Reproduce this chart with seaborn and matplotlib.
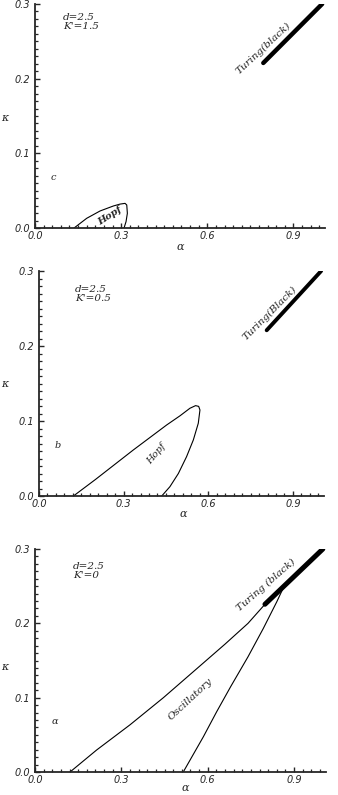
import pandas as pd
import numpy as np

import seaborn as sns
import matplotlib.pyplot as plt
from matplotlib.ticker import MultipleLocator

# panel c : K'=1.5
hopf_c_alpha = [0.136, 0.18, 0.2265, 0.273, 0.296, 0.3136, 0.3195, 0.3216, 0.317, 0.310]
hopf_c_kappa = [0.0, 0.013, 0.0228, 0.0295, 0.032, 0.033, 0.0308, 0.0197, 0.0085, 0.0]
turing_c_alpha = [0.795, 1.0]
turing_c_kappa = [0.221, 0.3]

# panel b : K'=0.5
hopf_b_alpha = [0.122, 0.2, 0.334, 0.4525, 0.50, 0.535, 0.555, 0.566, 0.5705,
                0.5646, 0.547, 0.523, 0.494, 0.464, 0.435]
hopf_b_kappa = [0.0, 0.022, 0.0613, 0.0947, 0.107, 0.117, 0.1205, 0.1195, 0.1147,
                0.097, 0.0747, 0.0524, 0.030, 0.0124, 0.0]
turing_b_alpha = [0.807, 1.0]
turing_b_kappa = [0.221, 0.3]

# panel a : K'=0
osc_left_alpha = [0.1216, 0.214, 0.330, 0.446, 0.562, 0.660, 0.740, 0.799]
osc_left_kappa = [0.0, 0.0296, 0.0635, 0.100, 0.139, 0.172, 0.200, 0.2257]
osc_right_alpha = [0.515, 0.585, 0.631, 0.680, 0.740, 0.793, 0.840, 0.863]
osc_right_kappa = [0.0, 0.0475, 0.081, 0.115, 0.155, 0.193, 0.229, 0.248]
turing_a_alpha = [0.799, 1.0]
turing_a_kappa = [0.2257, 0.3]

x_ticks = [0.0, 0.3, 0.6, 0.9]
y_ticks = [0.0, 0.1, 0.2, 0.3]

sns.set_style("ticks")
plt.rcParams["font.family"] = ["DejaVu Sans"]

serif = dict(family="DejaVu Serif", style="italic")


def curve(ax, a, k, lw, color="black"):
    d = pd.DataFrame({"alpha": a, "kappa": k})
    sns.lineplot(x="alpha", y="kappa", data=d, sort=False, estimator=None,
                 color=color, linewidth=lw, ax=ax)


def style_axes(ax, ylab_xy, xlab_xy):
    ax.set_xlim(0, 1.01)
    ax.set_ylim(0, 0.3)
    sns.despine(ax=ax)
    for s in ["left", "bottom"]:
        ax.spines[s].set_linewidth(1.3)
        ax.spines[s].set_clip_on(False)
    ax.set_xticks(x_ticks)
    ax.set_yticks(y_ticks)
    ax.set_xticklabels([f"{v:.1f}" for v in x_ticks], fontsize=7, style="italic")
    ax.set_yticklabels([f"{v:.1f}" for v in y_ticks], fontsize=7, style="italic")
    ax.xaxis.set_minor_locator(MultipleLocator(0.03))
    ax.yaxis.set_minor_locator(MultipleLocator(0.01))
    ax.tick_params(which="major", direction="in", length=3.5, width=1.0)
    ax.tick_params(which="minor", direction="in", length=2.5, width=0.9)
    ax.tick_params(axis="x", which="major", pad=2.5)
    ax.tick_params(axis="y", which="major", pad=3.5)
    ax.set_xlabel("α", fontsize=8, **serif)
    ax.set_ylabel("κ", fontsize=8, rotation=0, **serif)
    ax.yaxis.set_label_coords(*ylab_xy)
    ax.xaxis.set_label_coords(*xlab_xy)
    ax.xaxis.label.set_va("center")
    ax.yaxis.label.set_va("center")


fig = plt.figure(figsize=(3.38, 7.95), dpi=100)
ax1 = fig.add_axes([0.1036, 0.7132, 0.858, 0.2818])
ax2 = fig.add_axes([0.1154, 0.3761, 0.843, 0.2830])
ax3 = fig.add_axes([0.1036, 0.0289, 0.860, 0.2805])

# top panel
curve(ax1, hopf_c_alpha, hopf_c_kappa, 0.8)
curve(ax1, turing_c_alpha, turing_c_kappa, 3.2)
ax1.text(0.795, 0.241, "Turing(black)", rotation=43, ha="center", va="center",
         rotation_mode="anchor", fontsize=7.5, **serif)
ax1.text(0.26, 0.016, "Hopf", rotation=33, ha="center", va="center",
         rotation_mode="anchor", fontsize=7, fontweight="bold", **serif)
ax1.text(0.098, 0.288, "d=2.5\nK'=1.5", ha="left", va="top", fontsize=7.5,
         linespacing=1.0, **serif)
ax1.text(0.063, 0.068, "c", ha="center", va="center", fontsize=7, **serif)
style_axes(ax1, (-0.103, 0.49), (0.5, -0.085))

# middle panel
curve(ax2, hopf_b_alpha, hopf_b_kappa, 0.8)
curve(ax2, turing_b_alpha, turing_b_kappa, 2.8)
ax2.text(0.819, 0.2436, "Turing(Black)", rotation=45, ha="center", va="center",
         rotation_mode="anchor", fontsize=7.5, **serif)
ax2.text(0.417, 0.056, "Hopf", rotation=50, ha="center", va="center",
         rotation_mode="anchor", fontsize=7, **serif)
ax2.text(0.128, 0.281, "d=2.5\nK'=0.5", ha="left", va="top", fontsize=7.5,
         linespacing=1.0, **serif)
ax2.text(0.065, 0.068, "b", ha="center", va="center", fontsize=7, **serif)
style_axes(ax2, (-0.119, 0.50), (0.506, -0.082))

# bottom panel
curve(ax3, osc_left_alpha, osc_left_kappa, 0.8)
curve(ax3, osc_right_alpha, osc_right_kappa, 0.8)
curve(ax3, turing_a_alpha, turing_a_kappa, 3.6)
ax3.text(0.802, 0.2517, "Turing (black)", rotation=41, ha="center", va="center",
         rotation_mode="anchor", fontsize=7.5, **serif)
ax3.text(0.541, 0.098, "Oscillatory", rotation=43, ha="center", va="center",
         rotation_mode="anchor", fontsize=7.5, **serif)
ax3.text(0.132, 0.283, "d=2.5\nK'=0", ha="left", va="top", fontsize=7.5,
         linespacing=1.0, **serif)
ax3.text(0.0695, 0.0677, "α", ha="center", va="center", fontsize=7, **serif)
style_axes(ax3, (-0.103, 0.472), (0.517, -0.072))

plt.savefig("out.png", dpi=100)
plt.close()
